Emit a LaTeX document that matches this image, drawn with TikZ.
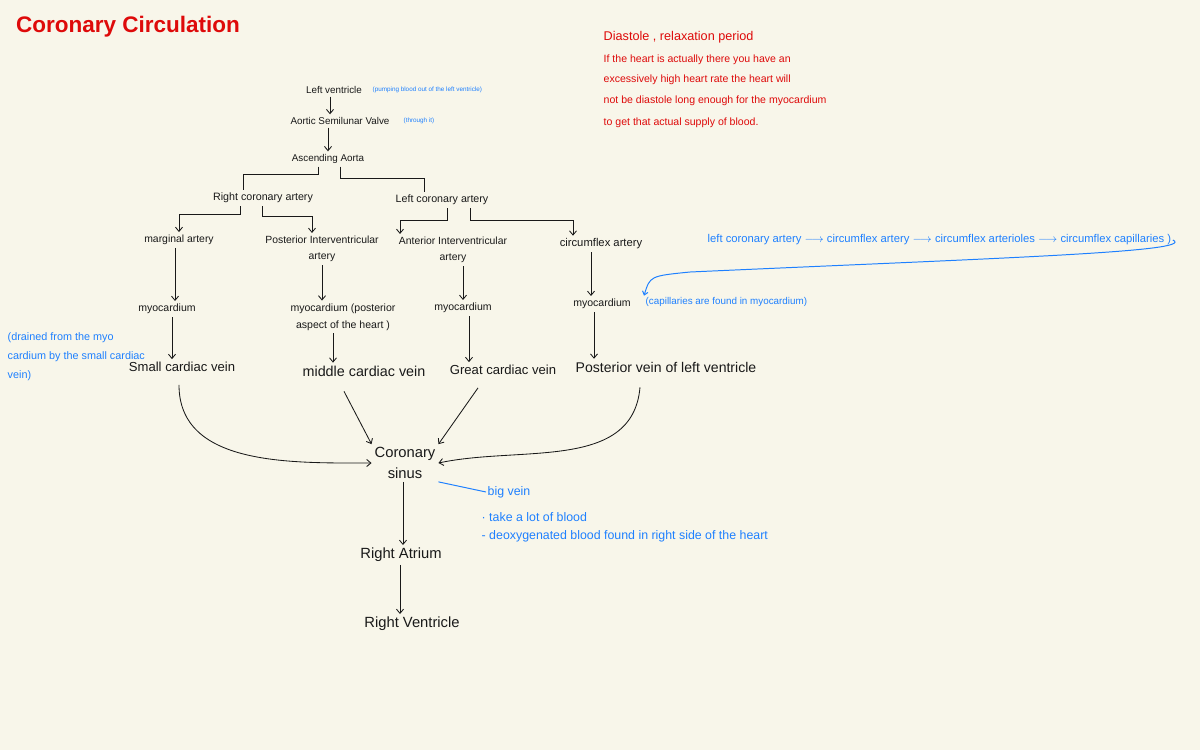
\documentclass[tikz,border=0pt]{standalone}
\usepackage{fontspec}
\setmainfont{Liberation Sans}
\usetikzlibrary{arrows.meta, positioning, calc}
\definecolor{paper}{RGB}{248,246,234}
\definecolor{inkred}{RGB}{222,10,10}
\definecolor{inkblue}{RGB}{30,128,255}
\definecolor{ink}{RGB}{25,25,25}

\begin{document}
\begin{tikzpicture}[x=0.025cm, y=-0.025cm,
  lbl/.style={text=ink, font=\fontsize{7}{11.5}\selectfont, inner sep=2pt, align=center},
  vein/.style={text=ink, font=\fontsize{9.3}{11}\selectfont, inner sep=2pt},
  big/.style={text=ink, font=\fontsize{10.5}{15}\selectfont, inner sep=2pt, align=center},
  note/.style={text=inkblue, font=\fontsize{7}{14}\selectfont, inner sep=1pt, anchor=west, align=left},
  tinynote/.style={text=inkblue, font=\fontsize{4.5}{5}\selectfont, inner sep=1pt, anchor=west},
  rednote/.style={text=inkred, font=\fontsize{7.5}{9}\selectfont, inner sep=1pt, anchor=west},
  arr/.style={draw=ink, line width=0.6pt, -{Straight Barb[length=3pt, width=5pt]}},
  link/.style={draw=ink, line width=0.6pt},
  bluelink/.style={draw=inkblue, line width=0.7pt}]
  \fill[paper] (0,0) rectangle (1200,750);
  \useasboundingbox (0,0) rectangle (1200,750);

  % title and diastole note
  \node[text=inkred, font=\fontsize{16}{18}\selectfont\bfseries] (title) at (128,27) {Coronary Circulation};
  \node[rednote, font=\fontsize{9}{10}\selectfont] (diast) at (602,37) {Diastole , relaxation period};
  \foreach \i/\y/\t in {1/60/{If the heart is actually there you have an},
                        2/80/{excessively high heart rate the heart will},
                        3/101/{not be diastole long enough for the myocardium},
                        4/123/{to get that actual supply of blood.}} {
    \node[rednote] (red\i) at (602,\y) {\t};
  }

  % aorta down to the two coronary arteries
  \node[lbl] (lv) at (334,90) {Left ventricle};
  \node[tinynote] (lvnote) at (371,90) {(pumping blood out of the left ventricle)};
  \node[lbl] (asv) at (340,121) {Aortic Semilunar Valve};
  \node[tinynote] (asvnote) at (402,121) {(through it)};
  \node[lbl] (aa) at (328,159) {Ascending Aorta};
  \node[lbl, font=\fontsize{7.6}{11.5}\selectfont] (rca) at (263,198) {Right coronary artery};
  \node[lbl, font=\fontsize{7.6}{11.5}\selectfont] (lca) at (442,200) {Left coronary artery};

  \draw[arr] (lv.south -| 330,0) -- (asv.north -| 330,0);
  \draw[arr] (asv.south -| aa.north) -- (aa.north);
  \draw[link] (aa.south) ++(-10,0) -- ++(0,8) -| ($(rca.north)+(-20,0)$);
  \draw[link] (aa.south) ++(12,0) -- ++(0,12) -| ($(lca.north)+(-18,0)$);

  % branches
  \node[lbl, font=\fontsize{7.4}{11.5}\selectfont] (marg) at (179,240) {marginal artery};
  \node[lbl, font=\fontsize{7.4}{11.5}\selectfont] (pia) at (322,249) {Posterior Interventricular\\artery};
  \node[lbl, font=\fontsize{7.4}{11.5}\selectfont] (aia) at (453,250) {Anterior Interventricular\\artery};
  \node[lbl, font=\fontsize{8}{11.5}\selectfont] (cfx) at (601,244) {circumflex artery};

  \draw[arr] (rca.south) ++(-23,0) -- ++(0,8) -| (marg.north);
  \draw[arr] (rca.south) ++(-1,0) -- ++(0,10) -| ($(pia.north)+(-10,0)$);
  \draw[arr] (lca.south) ++(5,0) -- ++(0,12) -| ($(aia.north)+(-53,0)$);
  \draw[arr] (lca.south) ++(28,0) -- ++(0,12) -| ($(cfx.north)+(-28,0)$);

  % myocardium
  \node[lbl, font=\fontsize{7.5}{12}\selectfont] (myo1) at (167,309) {myocardium};
  \node[lbl, font=\fontsize{7.5}{12}\selectfont] (myo2) at (343,317) {myocardium (posterior\\aspect of the heart )};
  \node[lbl, font=\fontsize{7.5}{12}\selectfont] (myo3) at (463,308) {myocardium};
  \node[lbl, font=\fontsize{7.5}{12}\selectfont] (myo4) at (602,304) {myocardium};
  \node[note] (capnote) at (644,302) {(capillaries are found in myocardium)};

  \draw[arr] (marg.south -| 175,0) -- (myo1.north -| 175,0);
  \draw[arr] (pia.south) -- (pia.south |- myo2.north);
  \draw[arr] (myo3.north |- aia.south) -- (myo3.north);
  \draw[arr] (cfx.south -| 591,0) -- (myo4.north -| 591,0);

  % cardiac veins
  \node[vein] (scv) at (182,367) {Small cardiac vein};
  \node[vein, font=\fontsize{10.2}{11}\selectfont] (mcv) at (364,371) {middle cardiac vein};
  \node[vein] (gcv) at (503,370) {Great cardiac vein};
  \node[vein, font=\fontsize{10}{11}\selectfont] (pvlv) at (666,367) {Posterior vein of left ventricle};
  \node[note, font=\fontsize{7.7}{13.5}\selectfont] (smallnote) at (6,357) {(drained from the myo\\cardium by the small cardiac\\vein)};

  \draw[arr] (myo1.south -| 172,0) -- (scv.north -| 172,0);
  \draw[arr] (myo2.south -| 333,0) -- (mcv.north -| 333,0);
  \draw[arr] (myo3.south -| 469,0) -- (gcv.north -| 469,0);
  \draw[arr] (myo4.south -| 594,0) -- (pvlv.north -| 594,0);

  % coronary sinus and right heart
  \node[big] (cs) at (405,463) {Coronary\\sinus};
  \draw[arr] (scv.south) ++(-3,10) to[out=-90, in=180] (cs.west);
  \draw[arr] (mcv.south) ++(-20,12) -- (cs.north west);
  \draw[arr] (gcv.south) ++(-25,10) -- (cs.north east);
  \draw[arr] (pvlv.south) ++(-26,12) to[out=-95, in=12] (cs.east);

  \node[note, font=\fontsize{8.8}{10}\selectfont] (bigvein) at (486,492) {big vein};
  \node[note, font=\fontsize{8.8}{10}\selectfont] (blood1) at (480,517) {· take a lot of blood};
  \node[note, font=\fontsize{8.8}{10}\selectfont] (blood2) at (480,536) {- deoxygenated blood found in right side of the heart};
  \draw[bluelink] (cs.south east) -- (bigvein.west);

  \node[big] (ra) at (401,555) {Right Atrium};
  \node[big] (rv) at (412,624) {Right Ventricle};
  \draw[arr] (cs.south -| 403,0) -- (ra.north -| 403,0);
  \draw[arr] (ra.south -| 400,0) -- (rv.north -| 400,0);

  % circumflex pathway note
  \node[note, font=\fontsize{8}{10}\selectfont] (flow) at (706,240) {left coronary artery $\longrightarrow$ circumflex artery $\longrightarrow$ circumflex arterioles $\longrightarrow$ circumflex capillaries )};
  \coordinate (bend) at (690,272);
  \draw[bluelink, -{Straight Barb[length=2.5pt, width=4pt]}] (flow.east) .. controls (1198,252) and (1000,258) .. (bend) .. controls (650,276) .. (capnote.north west);
\end{tikzpicture}
\end{document}
